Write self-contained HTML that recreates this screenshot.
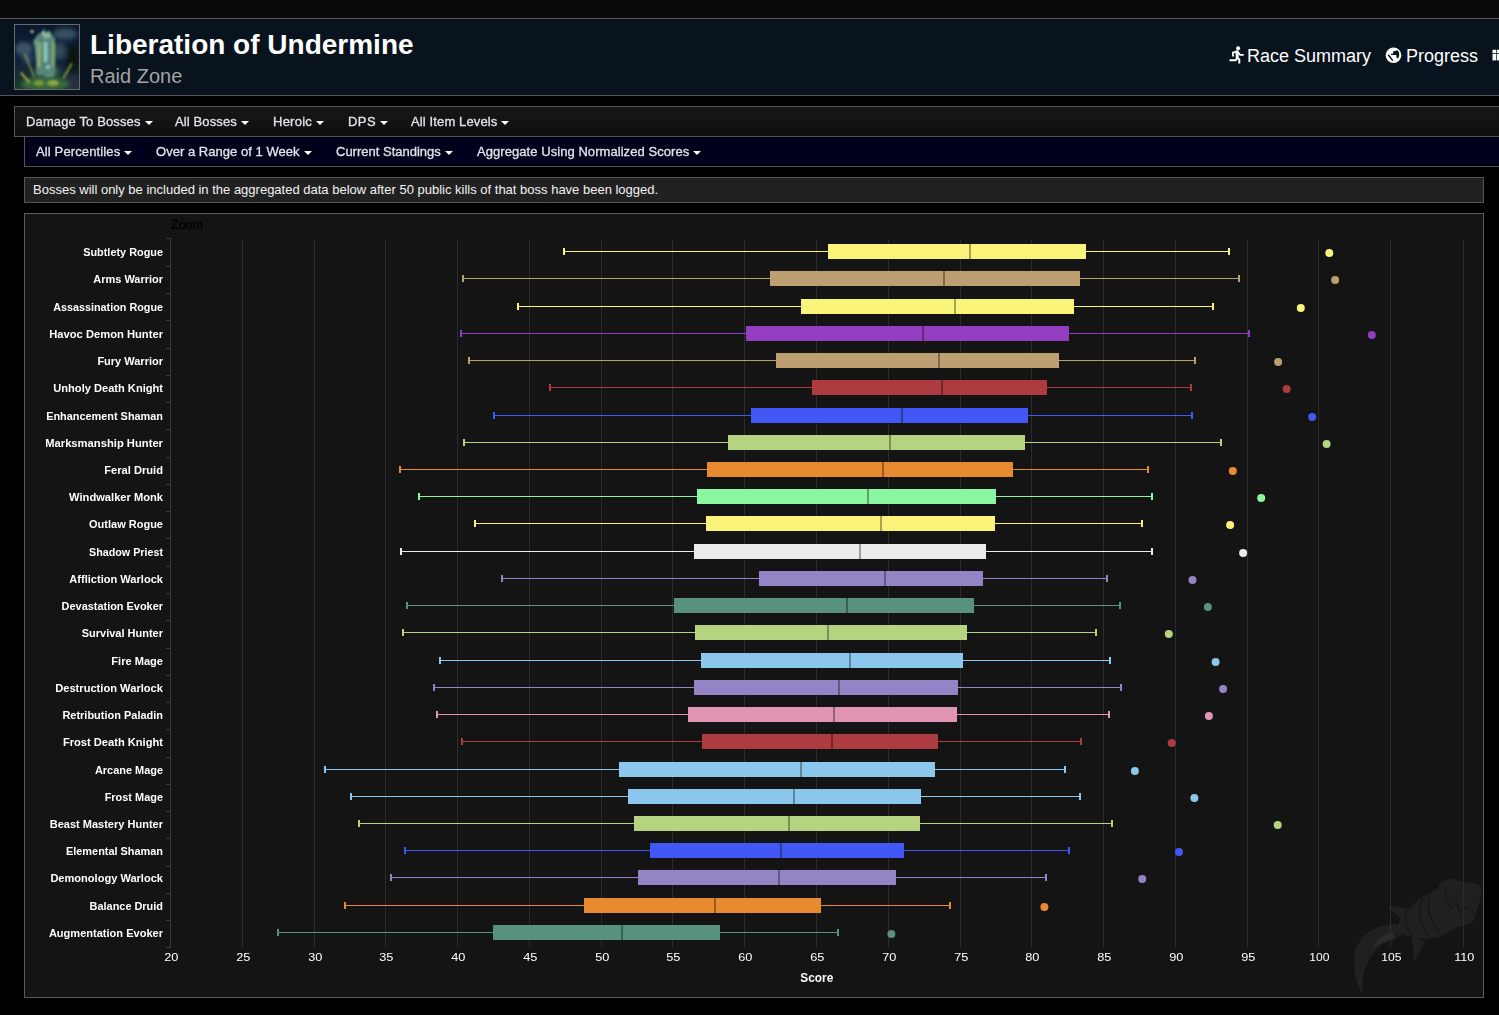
<!DOCTYPE html>
<html><head><meta charset="utf-8">
<style>
*{box-sizing:border-box;margin:0;padding:0}
html,body{width:1499px;height:1015px;overflow:hidden;background:#000;font-family:"Liberation Sans",sans-serif;}
.abs{position:absolute}
#topstrip{left:0;top:0;width:1499px;height:18px;background:#0a0a0a}
#header{left:0;top:18px;width:1499px;height:78px;background:#08131d;border-top:1px solid #555;border-bottom:1px solid #555}
#zicon{left:14px;top:24px;width:66px;height:66px;border:1px solid #6a6a6a;overflow:hidden;background:#0e1d2a}
#title{left:90px;top:28px;font-size:28px;font-weight:bold;color:#fff;white-space:nowrap;line-height:34px}
#subtitle{left:90px;top:64px;font-size:20px;color:#a3a3a3;white-space:nowrap;line-height:24px}
.hlink{top:45px;font-size:18px;color:#fff;white-space:nowrap;line-height:22px}
#bar1{left:14px;top:106px;width:1500px;height:31px;border:1px solid #555;border-right:none;background:linear-gradient(#171717,#0f0f0f)}
#bar2{left:24px;top:136px;width:1490px;height:31px;border:1px solid #555;border-right:none;background:#00001a}
.f{position:absolute;font-size:13px;color:#e0e4e8;white-space:nowrap;line-height:16px;-webkit-text-stroke:0.3px #e0e4e8;will-change:transform}
.caret{display:inline-block;width:8px;height:4px;margin-left:4px;vertical-align:baseline;position:relative;top:-1px}
#info{left:24px;top:177px;width:1460px;height:26px;background:#212121;border:1px solid #555}
#infot{left:33px;top:182px;font-size:13px;color:#f2f2f2;white-space:nowrap;line-height:16px}
#chart{left:24px;top:213px;width:1460px;height:785px;background:#141414;border:1px solid #5a5a5a}
svg#cs{position:absolute;left:0;top:0}
.lbl{font-family:"Liberation Sans",sans-serif;font-size:11px;font-weight:bold;fill:#fff}
.xl{font-family:"Liberation Sans",sans-serif;font-size:11px;fill:#fff}
.xt{font-family:"Liberation Sans",sans-serif;font-size:13px;font-weight:bold;fill:#fff}
.zoom{font-family:"Liberation Sans",sans-serif;font-size:12.5px;fill:#000;stroke:#000;stroke-width:0.3px}
</style></head>
<body>
<div id="topstrip" class="abs"></div>
<div id="header" class="abs"></div>
<div id="zicon" class="abs">
<svg width="64" height="64" viewBox="0 0 64 64">
<defs>
<filter id="bl1" x="-20%" y="-20%" width="140%" height="140%"><feGaussianBlur stdDeviation="2"/></filter>
<filter id="bl2" x="-20%" y="-20%" width="140%" height="140%"><feGaussianBlur stdDeviation="0.8"/></filter>
<linearGradient id="zbg" x1="0" y1="0" x2="0" y2="1"><stop offset="0" stop-color="#0b1730"/><stop offset="0.55" stop-color="#10213a"/><stop offset="1" stop-color="#1e3a2a"/></linearGradient>
</defs>
<rect width="64" height="64" fill="url(#zbg)"/>
<g filter="url(#bl1)">
<ellipse cx="9" cy="24" rx="9" ry="7" fill="#3a5266"/>
<ellipse cx="13" cy="34" rx="6" ry="5" fill="#2c4460"/>
<ellipse cx="50" cy="9" rx="12" ry="6" fill="#34505e"/>
<ellipse cx="45" cy="26" rx="6" ry="9" fill="#2e4858"/>
<ellipse cx="58" cy="34" rx="6" ry="14" fill="#08140e"/>
<ellipse cx="57" cy="57" rx="7" ry="6" fill="#2a2a48"/>
<ellipse cx="30" cy="59" rx="24" ry="7" fill="#3a6a40"/>
<ellipse cx="32" cy="47" rx="13" ry="7" fill="#345a50"/>
</g>
<g filter="url(#bl2)">
<path d="M18 16 L23 9 L28 7 L35 7 L40 13 L41 22 L40 50 L22 50 L20 24 Z" fill="#5a8878" opacity="0.95"/>
<path d="M20 20 L24 16 L25 40 L22 44 Z" fill="#7aa898" opacity="0.7"/>
<path d="M35 14 L39 16 L39 44 L36 40 Z" fill="#6a9888" opacity="0.7"/>
<path d="M26 8 L29 4 L31 9 L34 5 L36 12 L30 14 Z" fill="#8ab4a0"/>
<path d="M19 17 L23 14 L24 22 L20 22 Z" fill="#6a9a8a"/>
<rect x="28.5" y="17" width="4" height="20" fill="#88c4c4"/>
<path d="M24.5 18 L26 18 L25 42 L23.5 42 Z" fill="#a8c048"/>
<path d="M38 18 L39.3 18 L38.8 42 L37.5 42 Z" fill="#98b048"/>
<path d="M9 29 L10.5 28 L20 52 L18.5 53 Z" fill="#8a9a48" opacity="0.85"/>
<path d="M5 48 L6.5 47 L15 57 L13.5 58 Z" fill="#b8b840"/>
<path d="M56 38 L57.5 39 L49 54 L47.5 53 Z" fill="#98a848" opacity="0.9"/>
<ellipse cx="24" cy="58" rx="5" ry="3" fill="#7a9a3a"/>
<ellipse cx="38" cy="58" rx="6" ry="3" fill="#8aa840"/>
<ellipse cx="34" cy="50" rx="5" ry="2.5" fill="#5a8a78"/>
<ellipse cx="33" cy="42" rx="2" ry="2" fill="#90c8c0"/>
<circle cx="17" cy="6.5" r="1.5" fill="#e8d890"/>
</g>
</svg>
</div>
<div id="title" class="abs">Liberation of Undermine</div>
<div id="subtitle" class="abs">Raid Zone</div>

<svg class="abs" style="left:1226px;top:42px" width="24" height="24" viewBox="0 0 24 24">
<circle cx="12.1" cy="6.3" r="2" fill="#fff"/>
<g fill="none" stroke="#fff" stroke-linejoin="round" stroke-linecap="square">
<path d="M11 9.8 L11.3 15.5" stroke-width="3"/>
<path d="M10 10 L7 10.3 L7 13.5" stroke-width="1.8"/>
<path d="M12.3 10.5 L14 12.8 L16.8 12.8" stroke-width="1.8"/>
<path d="M10.8 16.5 L9.5 18.3 L4.5 18.3" stroke-width="2"/>
<path d="M12 16.5 L13.3 17.3 L13.3 20.5" stroke-width="2"/>
</g>
</svg>
<div class="abs hlink" style="left:1247px">Race Summary</div>
<svg class="abs" style="left:1382px;top:44px" width="24" height="24" viewBox="0 0 24 24">
<circle cx="11.5" cy="11.2" r="7.8" fill="#fff"/>
<path d="M9 9.8 L11.1 9.8 L11.1 7.4 L13.8 6.7 L15.3 6.3 L16.8 7.8 L17.3 10.2 L16.9 12.7 L15.7 14.6 L14.6 13.8 L14.3 10.9 L9 10.9 Z" fill="#08131d"/>
<path d="M6.2 10.8 L10.8 16.6" stroke="#08131d" stroke-width="1.5"/>
</svg>
<div class="abs hlink" style="left:1406px">Progress</div>
<svg class="abs" style="left:1492px;top:49px" width="7" height="12" viewBox="0 0 7 12">
<rect x="0.5" y="0.75" width="3.8" height="3.5" fill="#fff"/><rect x="5" y="0.75" width="2" height="3.5" fill="#fff"/>
<rect x="0.5" y="5" width="3.8" height="6.4" fill="#fff"/><rect x="5" y="5" width="2" height="6.4" fill="#fff"/>
</svg>

<div id="bar1" class="abs"></div>
<div class="f" style="left:26px;top:114px;letter-spacing:0.13px">Damage To Bosses<svg class="caret" width="8" height="4" viewBox="0 0 8 4"><path d="M0 0H8L4 4Z" fill="#fff"/></svg></div>
<div class="f" style="left:175px;top:114px;letter-spacing:0.12px">All Bosses<svg class="caret" width="8" height="4" viewBox="0 0 8 4"><path d="M0 0H8L4 4Z" fill="#fff"/></svg></div>
<div class="f" style="left:273px;top:114px;letter-spacing:0.25px">Heroic<svg class="caret" width="8" height="4" viewBox="0 0 8 4"><path d="M0 0H8L4 4Z" fill="#fff"/></svg></div>
<div class="f" style="left:348px;top:114px;letter-spacing:0.45px">DPS<svg class="caret" width="8" height="4" viewBox="0 0 8 4"><path d="M0 0H8L4 4Z" fill="#fff"/></svg></div>
<div class="f" style="left:411px;top:114px;letter-spacing:0.13px">All Item Levels<svg class="caret" width="8" height="4" viewBox="0 0 8 4"><path d="M0 0H8L4 4Z" fill="#fff"/></svg></div>
<div id="bar2" class="abs"></div>
<div class="f" style="left:36px;top:144px;letter-spacing:0.13px">All Percentiles<svg class="caret" width="8" height="4" viewBox="0 0 8 4"><path d="M0 0H8L4 4Z" fill="#fff"/></svg></div>
<div class="f" style="left:156px;top:144px;letter-spacing:0.03px">Over a Range of 1 Week<svg class="caret" width="8" height="4" viewBox="0 0 8 4"><path d="M0 0H8L4 4Z" fill="#fff"/></svg></div>
<div class="f" style="left:336px;top:144px">Current Standings<svg class="caret" width="8" height="4" viewBox="0 0 8 4"><path d="M0 0H8L4 4Z" fill="#fff"/></svg></div>
<div class="f" style="left:477px;top:144px;letter-spacing:0.06px">Aggregate Using Normalized Scores<svg class="caret" width="8" height="4" viewBox="0 0 8 4"><path d="M0 0H8L4 4Z" fill="#fff"/></svg></div>

<div id="info" class="abs"></div>
<div id="infot" class="abs">Bosses will only be included in the aggregated data below after 50 public kills of that boss have been logged.</div>
<div id="chart" class="abs"></div>
<svg id="cs" width="1499" height="1015" viewBox="0 0 1499 1015">
<g fill="#fff" fill-opacity="0.055">
<path d="M1438 888 C1440 882 1444 879 1450 879 L1477 884 C1482 886 1482 890 1481 896 L1479 904 L1476 912 C1475 918 1474 922 1470 924 L1455 928 L1442 936 L1426 939 L1414 938 L1402 934 L1398 924 L1409 908 L1418 900 Z"/>
<path d="M1387 905.5 L1407 908 L1402 920 Z"/>
<path d="M1412 937 L1425 942 L1414 963 Z"/>
<path d="M1400 925 C1385 922 1366 930 1358 944 C1351 957 1354 978 1362 994 C1362 975 1366 960 1376 950 C1384 942 1392 938 1401 936 Z"/>
<path d="M1392 932 C1384 934 1377 940 1372 948 C1380 943 1388 940 1396 939 Z"/>
</g>
<g fill="none" stroke="#141414" stroke-opacity="0.8" stroke-width="1.2">
<path d="M1447 889 C1444 896 1446 904 1451 909 L1456 902 L1460 913 L1467 907 L1474 913"/>
<path d="M1431 893 C1426 902 1428 920 1440 932"/>
<path d="M1423 898 C1417 908 1419 925 1430 937"/>
<path d="M1407 912 C1404 920 1406 928 1412 935"/>
</g>
<rect x="242" y="239" width="1" height="708" fill="#2c2c2c"/>
<rect x="314" y="239" width="1" height="708" fill="#2c2c2c"/>
<rect x="385" y="239" width="1" height="708" fill="#2c2c2c"/>
<rect x="457" y="239" width="1" height="708" fill="#2c2c2c"/>
<rect x="529" y="239" width="1" height="708" fill="#2c2c2c"/>
<rect x="601" y="239" width="1" height="708" fill="#2c2c2c"/>
<rect x="672" y="239" width="1" height="708" fill="#2c2c2c"/>
<rect x="744" y="239" width="1" height="708" fill="#2c2c2c"/>
<rect x="816" y="239" width="1" height="708" fill="#2c2c2c"/>
<rect x="888" y="239" width="1" height="708" fill="#2c2c2c"/>
<rect x="960" y="239" width="1" height="708" fill="#2c2c2c"/>
<rect x="1031" y="239" width="1" height="708" fill="#2c2c2c"/>
<rect x="1103" y="239" width="1" height="708" fill="#2c2c2c"/>
<rect x="1175" y="239" width="1" height="708" fill="#2c2c2c"/>
<rect x="1247" y="239" width="1" height="708" fill="#2c2c2c"/>
<rect x="1318" y="239" width="1" height="708" fill="#2c2c2c"/>
<rect x="1390" y="239" width="1" height="708" fill="#2c2c2c"/>
<rect x="1463" y="239" width="1" height="708" fill="#2c2c2c"/>
<rect x="170" y="238" width="1" height="710" fill="#3a3a3a"/>
<rect x="166" y="238" width="4" height="1" fill="#3a3a3a"/>
<rect x="166" y="266" width="4" height="1" fill="#3a3a3a"/>
<rect x="166" y="293" width="4" height="1" fill="#3a3a3a"/>
<rect x="166" y="320" width="4" height="1" fill="#3a3a3a"/>
<rect x="166" y="348" width="4" height="1" fill="#3a3a3a"/>
<rect x="166" y="375" width="4" height="1" fill="#3a3a3a"/>
<rect x="166" y="402" width="4" height="1" fill="#3a3a3a"/>
<rect x="166" y="429" width="4" height="1" fill="#3a3a3a"/>
<rect x="166" y="457" width="4" height="1" fill="#3a3a3a"/>
<rect x="166" y="484" width="4" height="1" fill="#3a3a3a"/>
<rect x="166" y="511" width="4" height="1" fill="#3a3a3a"/>
<rect x="166" y="538" width="4" height="1" fill="#3a3a3a"/>
<rect x="166" y="566" width="4" height="1" fill="#3a3a3a"/>
<rect x="166" y="593" width="4" height="1" fill="#3a3a3a"/>
<rect x="166" y="620" width="4" height="1" fill="#3a3a3a"/>
<rect x="166" y="648" width="4" height="1" fill="#3a3a3a"/>
<rect x="166" y="675" width="4" height="1" fill="#3a3a3a"/>
<rect x="166" y="702" width="4" height="1" fill="#3a3a3a"/>
<rect x="166" y="729" width="4" height="1" fill="#3a3a3a"/>
<rect x="166" y="757" width="4" height="1" fill="#3a3a3a"/>
<rect x="166" y="784" width="4" height="1" fill="#3a3a3a"/>
<rect x="166" y="811" width="4" height="1" fill="#3a3a3a"/>
<rect x="166" y="838" width="4" height="1" fill="#3a3a3a"/>
<rect x="166" y="866" width="4" height="1" fill="#3a3a3a"/>
<rect x="166" y="893" width="4" height="1" fill="#3a3a3a"/>
<rect x="166" y="920" width="4" height="1" fill="#3a3a3a"/>
<rect x="166" y="947" width="4" height="1" fill="#3a3a3a"/>
<rect x="564" y="251" width="264" height="1" fill="#fbf47b"/>
<rect x="1086" y="251" width="143" height="1" fill="#fbf47b"/>
<rect x="563" y="248" width="2" height="7" fill="#fbf47b"/>
<rect x="1228" y="248" width="2" height="7" fill="#fbf47b"/>
<rect x="828" y="244" width="258" height="15" fill="#fbf47b"/>
<rect x="969" y="244" width="2" height="15" fill="#000" fill-opacity="0.33"/>
<circle cx="1329.3" cy="253" r="4" fill="#fbf47b"/>
<text x="163" y="256" text-anchor="end" class="lbl" textLength="79.8" lengthAdjust="spacingAndGlyphs">Subtlety Rogue</text>
<rect x="463" y="278" width="307" height="1" fill="#bd9f72"/>
<rect x="1080" y="278" width="159" height="1" fill="#bd9f72"/>
<rect x="462" y="275" width="2" height="7" fill="#bd9f72"/>
<rect x="1238" y="275" width="2" height="7" fill="#bd9f72"/>
<rect x="770" y="271" width="310" height="15" fill="#bd9f72"/>
<rect x="943" y="271" width="2" height="15" fill="#000" fill-opacity="0.33"/>
<circle cx="1335.1" cy="280" r="4" fill="#bd9f72"/>
<text x="163" y="283" text-anchor="end" class="lbl" textLength="69.7" lengthAdjust="spacingAndGlyphs">Arms Warrior</text>
<rect x="518" y="306" width="283" height="1" fill="#fbf47b"/>
<rect x="1074" y="306" width="139" height="1" fill="#fbf47b"/>
<rect x="517" y="303" width="2" height="7" fill="#fbf47b"/>
<rect x="1212" y="303" width="2" height="7" fill="#fbf47b"/>
<rect x="801" y="299" width="273" height="15" fill="#fbf47b"/>
<rect x="954" y="299" width="2" height="15" fill="#000" fill-opacity="0.33"/>
<circle cx="1300.8" cy="308" r="4" fill="#fbf47b"/>
<text x="163" y="311" text-anchor="end" class="lbl" textLength="109.8" lengthAdjust="spacingAndGlyphs">Assassination Rogue</text>
<rect x="461" y="333" width="285" height="1" fill="#933ec0"/>
<rect x="1069" y="333" width="180" height="1" fill="#933ec0"/>
<rect x="460" y="330" width="2" height="7" fill="#933ec0"/>
<rect x="1248" y="330" width="2" height="7" fill="#933ec0"/>
<rect x="746" y="326" width="323" height="15" fill="#933ec0"/>
<rect x="922" y="326" width="2" height="15" fill="#000" fill-opacity="0.33"/>
<circle cx="1371.8" cy="335" r="4" fill="#933ec0"/>
<text x="163" y="338" text-anchor="end" class="lbl" textLength="113.8" lengthAdjust="spacingAndGlyphs">Havoc Demon Hunter</text>
<rect x="469" y="360" width="307" height="1" fill="#bd9f72"/>
<rect x="1059" y="360" width="136" height="1" fill="#bd9f72"/>
<rect x="468" y="357" width="2" height="7" fill="#bd9f72"/>
<rect x="1194" y="357" width="2" height="7" fill="#bd9f72"/>
<rect x="776" y="353" width="283" height="15" fill="#bd9f72"/>
<rect x="938" y="353" width="2" height="15" fill="#000" fill-opacity="0.33"/>
<circle cx="1278.1" cy="362" r="4" fill="#bd9f72"/>
<text x="163" y="365" text-anchor="end" class="lbl" textLength="65.6" lengthAdjust="spacingAndGlyphs">Fury Warrior</text>
<rect x="550" y="387" width="262" height="1" fill="#ae3b40"/>
<rect x="1047" y="387" width="144" height="1" fill="#ae3b40"/>
<rect x="549" y="384" width="2" height="7" fill="#ae3b40"/>
<rect x="1190" y="384" width="2" height="7" fill="#ae3b40"/>
<rect x="812" y="380" width="235" height="15" fill="#ae3b40"/>
<rect x="941" y="380" width="2" height="15" fill="#000" fill-opacity="0.33"/>
<circle cx="1286.6" cy="389" r="4" fill="#ae3b40"/>
<text x="163" y="392" text-anchor="end" class="lbl" textLength="109.7" lengthAdjust="spacingAndGlyphs">Unholy Death Knight</text>
<rect x="494" y="415" width="257" height="1" fill="#4158f5"/>
<rect x="1028" y="415" width="164" height="1" fill="#4158f5"/>
<rect x="493" y="412" width="2" height="7" fill="#4158f5"/>
<rect x="1191" y="412" width="2" height="7" fill="#4158f5"/>
<rect x="751" y="408" width="277" height="15" fill="#4158f5"/>
<rect x="901" y="408" width="2" height="15" fill="#000" fill-opacity="0.33"/>
<circle cx="1312.2" cy="417" r="4" fill="#4158f5"/>
<text x="163" y="420" text-anchor="end" class="lbl" textLength="116.8" lengthAdjust="spacingAndGlyphs">Enhancement Shaman</text>
<rect x="464" y="442" width="264" height="1" fill="#b6d480"/>
<rect x="1025" y="442" width="196" height="1" fill="#b6d480"/>
<rect x="463" y="439" width="2" height="7" fill="#b6d480"/>
<rect x="1220" y="439" width="2" height="7" fill="#b6d480"/>
<rect x="728" y="435" width="297" height="15" fill="#b6d480"/>
<rect x="889" y="435" width="2" height="15" fill="#000" fill-opacity="0.33"/>
<circle cx="1326.6" cy="444" r="4" fill="#b6d480"/>
<text x="163" y="447" text-anchor="end" class="lbl" textLength="117.8" lengthAdjust="spacingAndGlyphs">Marksmanship Hunter</text>
<rect x="400" y="469" width="307" height="1" fill="#e88a30"/>
<rect x="1013" y="469" width="135" height="1" fill="#e88a30"/>
<rect x="399" y="466" width="2" height="7" fill="#e88a30"/>
<rect x="1147" y="466" width="2" height="7" fill="#e88a30"/>
<rect x="707" y="462" width="306" height="15" fill="#e88a30"/>
<rect x="882" y="462" width="2" height="15" fill="#000" fill-opacity="0.33"/>
<circle cx="1232.8" cy="471" r="4" fill="#e88a30"/>
<text x="163" y="474" text-anchor="end" class="lbl" textLength="58.7" lengthAdjust="spacingAndGlyphs">Feral Druid</text>
<rect x="419" y="496" width="278" height="1" fill="#8cf7a0"/>
<rect x="996" y="496" width="156" height="1" fill="#8cf7a0"/>
<rect x="418" y="493" width="2" height="7" fill="#8cf7a0"/>
<rect x="1151" y="493" width="2" height="7" fill="#8cf7a0"/>
<rect x="697" y="489" width="299" height="15" fill="#8cf7a0"/>
<rect x="867" y="489" width="2" height="15" fill="#000" fill-opacity="0.33"/>
<circle cx="1261.2" cy="498" r="4" fill="#8cf7a0"/>
<text x="163" y="501" text-anchor="end" class="lbl" textLength="93.9" lengthAdjust="spacingAndGlyphs">Windwalker Monk</text>
<rect x="475" y="523" width="231" height="1" fill="#fbf47b"/>
<rect x="995" y="523" width="147" height="1" fill="#fbf47b"/>
<rect x="474" y="520" width="2" height="7" fill="#fbf47b"/>
<rect x="1141" y="520" width="2" height="7" fill="#fbf47b"/>
<rect x="706" y="516" width="289" height="15" fill="#fbf47b"/>
<rect x="880" y="516" width="2" height="15" fill="#000" fill-opacity="0.33"/>
<circle cx="1230.1" cy="525" r="4" fill="#fbf47b"/>
<text x="163" y="528" text-anchor="end" class="lbl" textLength="74.0" lengthAdjust="spacingAndGlyphs">Outlaw Rogue</text>
<rect x="401" y="551" width="293" height="1" fill="#ececec"/>
<rect x="986" y="551" width="166" height="1" fill="#ececec"/>
<rect x="400" y="548" width="2" height="7" fill="#ececec"/>
<rect x="1151" y="548" width="2" height="7" fill="#ececec"/>
<rect x="694" y="544" width="292" height="15" fill="#ececec"/>
<rect x="859" y="544" width="2" height="15" fill="#000" fill-opacity="0.33"/>
<circle cx="1243.1" cy="553" r="4" fill="#ececec"/>
<text x="163" y="556" text-anchor="end" class="lbl" textLength="73.9" lengthAdjust="spacingAndGlyphs">Shadow Priest</text>
<rect x="502" y="578" width="257" height="1" fill="#9484c6"/>
<rect x="983" y="578" width="124" height="1" fill="#9484c6"/>
<rect x="501" y="575" width="2" height="7" fill="#9484c6"/>
<rect x="1106" y="575" width="2" height="7" fill="#9484c6"/>
<rect x="759" y="571" width="224" height="15" fill="#9484c6"/>
<rect x="884" y="571" width="2" height="15" fill="#000" fill-opacity="0.33"/>
<circle cx="1192.5" cy="580" r="4" fill="#9484c6"/>
<text x="163" y="583" text-anchor="end" class="lbl" textLength="93.7" lengthAdjust="spacingAndGlyphs">Affliction Warlock</text>
<rect x="407" y="605" width="267" height="1" fill="#589180"/>
<rect x="974" y="605" width="146" height="1" fill="#589180"/>
<rect x="406" y="602" width="2" height="7" fill="#589180"/>
<rect x="1119" y="602" width="2" height="7" fill="#589180"/>
<rect x="674" y="598" width="300" height="15" fill="#589180"/>
<rect x="846" y="598" width="2" height="15" fill="#000" fill-opacity="0.33"/>
<circle cx="1207.9" cy="607" r="4" fill="#589180"/>
<text x="163" y="610" text-anchor="end" class="lbl" textLength="101.4" lengthAdjust="spacingAndGlyphs">Devastation Evoker</text>
<rect x="403" y="632" width="292" height="1" fill="#b6d480"/>
<rect x="967" y="632" width="129" height="1" fill="#b6d480"/>
<rect x="402" y="629" width="2" height="7" fill="#b6d480"/>
<rect x="1095" y="629" width="2" height="7" fill="#b6d480"/>
<rect x="695" y="625" width="272" height="15" fill="#b6d480"/>
<rect x="827" y="625" width="2" height="15" fill="#000" fill-opacity="0.33"/>
<circle cx="1168.8" cy="634" r="4" fill="#b6d480"/>
<text x="163" y="637" text-anchor="end" class="lbl" textLength="81.3" lengthAdjust="spacingAndGlyphs">Survival Hunter</text>
<rect x="440" y="660" width="261" height="1" fill="#8cc8ee"/>
<rect x="963" y="660" width="147" height="1" fill="#8cc8ee"/>
<rect x="439" y="657" width="2" height="7" fill="#8cc8ee"/>
<rect x="1109" y="657" width="2" height="7" fill="#8cc8ee"/>
<rect x="701" y="653" width="262" height="15" fill="#8cc8ee"/>
<rect x="849" y="653" width="2" height="15" fill="#000" fill-opacity="0.33"/>
<circle cx="1215.6" cy="662" r="4" fill="#8cc8ee"/>
<text x="163" y="665" text-anchor="end" class="lbl" textLength="51.7" lengthAdjust="spacingAndGlyphs">Fire Mage</text>
<rect x="434" y="687" width="260" height="1" fill="#9484c6"/>
<rect x="958" y="687" width="163" height="1" fill="#9484c6"/>
<rect x="433" y="684" width="2" height="7" fill="#9484c6"/>
<rect x="1120" y="684" width="2" height="7" fill="#9484c6"/>
<rect x="694" y="680" width="264" height="15" fill="#9484c6"/>
<rect x="838" y="680" width="2" height="15" fill="#000" fill-opacity="0.33"/>
<circle cx="1223.1" cy="689" r="4" fill="#9484c6"/>
<text x="163" y="692" text-anchor="end" class="lbl" textLength="107.8" lengthAdjust="spacingAndGlyphs">Destruction Warlock</text>
<rect x="437" y="714" width="251" height="1" fill="#e194b4"/>
<rect x="957" y="714" width="152" height="1" fill="#e194b4"/>
<rect x="436" y="711" width="2" height="7" fill="#e194b4"/>
<rect x="1108" y="711" width="2" height="7" fill="#e194b4"/>
<rect x="688" y="707" width="269" height="15" fill="#e194b4"/>
<rect x="833" y="707" width="2" height="15" fill="#000" fill-opacity="0.33"/>
<circle cx="1208.9" cy="716" r="4" fill="#e194b4"/>
<text x="163" y="719" text-anchor="end" class="lbl" textLength="100.6" lengthAdjust="spacingAndGlyphs">Retribution Paladin</text>
<rect x="462" y="741" width="240" height="1" fill="#ae3b40"/>
<rect x="938" y="741" width="143" height="1" fill="#ae3b40"/>
<rect x="461" y="738" width="2" height="7" fill="#ae3b40"/>
<rect x="1080" y="738" width="2" height="7" fill="#ae3b40"/>
<rect x="702" y="734" width="236" height="15" fill="#ae3b40"/>
<rect x="831" y="734" width="2" height="15" fill="#000" fill-opacity="0.33"/>
<circle cx="1171.7" cy="743" r="4" fill="#ae3b40"/>
<text x="163" y="746" text-anchor="end" class="lbl" textLength="100.1" lengthAdjust="spacingAndGlyphs">Frost Death Knight</text>
<rect x="325" y="769" width="294" height="1" fill="#8cc8ee"/>
<rect x="935" y="769" width="130" height="1" fill="#8cc8ee"/>
<rect x="324" y="766" width="2" height="7" fill="#8cc8ee"/>
<rect x="1064" y="766" width="2" height="7" fill="#8cc8ee"/>
<rect x="619" y="762" width="316" height="15" fill="#8cc8ee"/>
<rect x="800" y="762" width="2" height="15" fill="#000" fill-opacity="0.33"/>
<circle cx="1134.9" cy="771" r="4" fill="#8cc8ee"/>
<text x="163" y="774" text-anchor="end" class="lbl" textLength="68.1" lengthAdjust="spacingAndGlyphs">Arcane Mage</text>
<rect x="351" y="796" width="277" height="1" fill="#8cc8ee"/>
<rect x="921" y="796" width="159" height="1" fill="#8cc8ee"/>
<rect x="350" y="793" width="2" height="7" fill="#8cc8ee"/>
<rect x="1079" y="793" width="2" height="7" fill="#8cc8ee"/>
<rect x="628" y="789" width="293" height="15" fill="#8cc8ee"/>
<rect x="793" y="789" width="2" height="15" fill="#000" fill-opacity="0.33"/>
<circle cx="1194.4" cy="798" r="4" fill="#8cc8ee"/>
<text x="163" y="801" text-anchor="end" class="lbl" textLength="58.3" lengthAdjust="spacingAndGlyphs">Frost Mage</text>
<rect x="359" y="823" width="275" height="1" fill="#b6d480"/>
<rect x="920" y="823" width="192" height="1" fill="#b6d480"/>
<rect x="358" y="820" width="2" height="7" fill="#b6d480"/>
<rect x="1111" y="820" width="2" height="7" fill="#b6d480"/>
<rect x="634" y="816" width="286" height="15" fill="#b6d480"/>
<rect x="788" y="816" width="2" height="15" fill="#000" fill-opacity="0.33"/>
<circle cx="1277.7" cy="825" r="4" fill="#b6d480"/>
<text x="163" y="828" text-anchor="end" class="lbl" textLength="113.3" lengthAdjust="spacingAndGlyphs">Beast Mastery Hunter</text>
<rect x="405" y="850" width="245" height="1" fill="#4158f5"/>
<rect x="904" y="850" width="165" height="1" fill="#4158f5"/>
<rect x="404" y="847" width="2" height="7" fill="#4158f5"/>
<rect x="1068" y="847" width="2" height="7" fill="#4158f5"/>
<rect x="650" y="843" width="254" height="15" fill="#4158f5"/>
<rect x="780" y="843" width="2" height="15" fill="#000" fill-opacity="0.33"/>
<circle cx="1179.0" cy="852" r="4" fill="#4158f5"/>
<text x="163" y="855" text-anchor="end" class="lbl" textLength="97.0" lengthAdjust="spacingAndGlyphs">Elemental Shaman</text>
<rect x="391" y="877" width="247" height="1" fill="#9484c6"/>
<rect x="896" y="877" width="150" height="1" fill="#9484c6"/>
<rect x="390" y="874" width="2" height="7" fill="#9484c6"/>
<rect x="1045" y="874" width="2" height="7" fill="#9484c6"/>
<rect x="638" y="870" width="258" height="15" fill="#9484c6"/>
<rect x="778" y="870" width="2" height="15" fill="#000" fill-opacity="0.33"/>
<circle cx="1142.2" cy="879" r="4" fill="#9484c6"/>
<text x="163" y="882" text-anchor="end" class="lbl" textLength="112.6" lengthAdjust="spacingAndGlyphs">Demonology Warlock</text>
<rect x="345" y="905" width="239" height="1" fill="#e88a30"/>
<rect x="821" y="905" width="129" height="1" fill="#e88a30"/>
<rect x="344" y="902" width="2" height="7" fill="#e88a30"/>
<rect x="949" y="902" width="2" height="7" fill="#e88a30"/>
<rect x="584" y="898" width="237" height="15" fill="#e88a30"/>
<rect x="714" y="898" width="2" height="15" fill="#000" fill-opacity="0.33"/>
<circle cx="1044.4" cy="907" r="4" fill="#e88a30"/>
<text x="163" y="910" text-anchor="end" class="lbl" textLength="73.4" lengthAdjust="spacingAndGlyphs">Balance Druid</text>
<rect x="278" y="932" width="215" height="1" fill="#589180"/>
<rect x="720" y="932" width="118" height="1" fill="#589180"/>
<rect x="277" y="929" width="2" height="7" fill="#589180"/>
<rect x="837" y="929" width="2" height="7" fill="#589180"/>
<rect x="493" y="925" width="227" height="15" fill="#589180"/>
<rect x="621" y="925" width="2" height="15" fill="#000" fill-opacity="0.33"/>
<circle cx="891.4" cy="934" r="4" fill="#589180"/>
<text x="163" y="937" text-anchor="end" class="lbl" textLength="114.1" lengthAdjust="spacingAndGlyphs">Augmentation Evoker</text>
<text x="171.3" y="961" text-anchor="middle" class="xl" textLength="14.2" lengthAdjust="spacingAndGlyphs">20</text>
<text x="243.3" y="961" text-anchor="middle" class="xl" textLength="14.2" lengthAdjust="spacingAndGlyphs">25</text>
<text x="315.3" y="961" text-anchor="middle" class="xl" textLength="14.2" lengthAdjust="spacingAndGlyphs">30</text>
<text x="386.3" y="961" text-anchor="middle" class="xl" textLength="14.2" lengthAdjust="spacingAndGlyphs">35</text>
<text x="458.3" y="961" text-anchor="middle" class="xl" textLength="14.2" lengthAdjust="spacingAndGlyphs">40</text>
<text x="530.3" y="961" text-anchor="middle" class="xl" textLength="14.2" lengthAdjust="spacingAndGlyphs">45</text>
<text x="602.3" y="961" text-anchor="middle" class="xl" textLength="14.2" lengthAdjust="spacingAndGlyphs">50</text>
<text x="673.3" y="961" text-anchor="middle" class="xl" textLength="14.2" lengthAdjust="spacingAndGlyphs">55</text>
<text x="745.3" y="961" text-anchor="middle" class="xl" textLength="14.2" lengthAdjust="spacingAndGlyphs">60</text>
<text x="817.3" y="961" text-anchor="middle" class="xl" textLength="14.2" lengthAdjust="spacingAndGlyphs">65</text>
<text x="889.3" y="961" text-anchor="middle" class="xl" textLength="14.2" lengthAdjust="spacingAndGlyphs">70</text>
<text x="961.3" y="961" text-anchor="middle" class="xl" textLength="14.2" lengthAdjust="spacingAndGlyphs">75</text>
<text x="1032.3" y="961" text-anchor="middle" class="xl" textLength="14.2" lengthAdjust="spacingAndGlyphs">80</text>
<text x="1104.3" y="961" text-anchor="middle" class="xl" textLength="14.2" lengthAdjust="spacingAndGlyphs">85</text>
<text x="1176.3" y="961" text-anchor="middle" class="xl" textLength="14.2" lengthAdjust="spacingAndGlyphs">90</text>
<text x="1248.3" y="961" text-anchor="middle" class="xl" textLength="14.2" lengthAdjust="spacingAndGlyphs">95</text>
<text x="1319.3" y="961" text-anchor="middle" class="xl" textLength="20.2" lengthAdjust="spacingAndGlyphs">100</text>
<text x="1391.3" y="961" text-anchor="middle" class="xl" textLength="20.2" lengthAdjust="spacingAndGlyphs">105</text>
<text x="1464.3" y="961" text-anchor="middle" class="xl" textLength="20.2" lengthAdjust="spacingAndGlyphs">110</text>
<text x="816.8" y="982" text-anchor="middle" class="xt" textLength="33" lengthAdjust="spacingAndGlyphs">Score</text>
<text x="171" y="229" class="zoom">Zoom</text>
</svg>
</body></html>
